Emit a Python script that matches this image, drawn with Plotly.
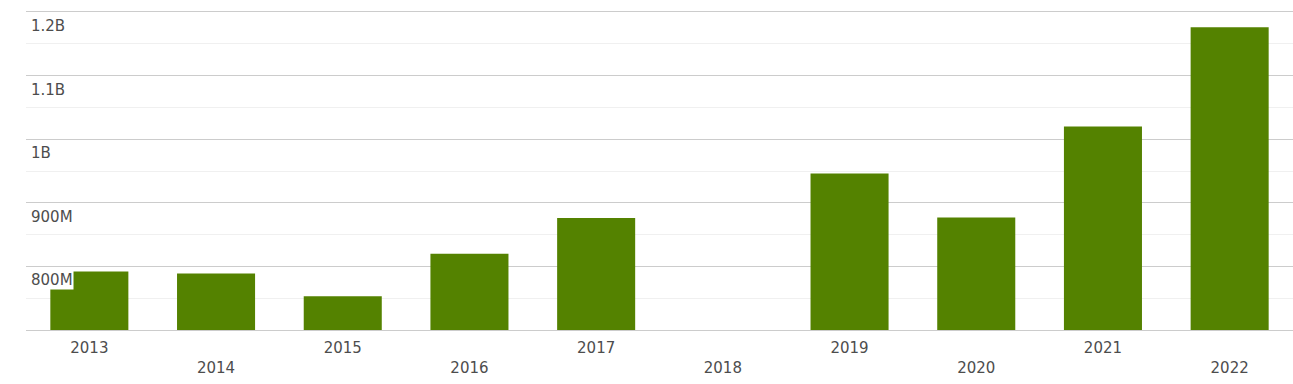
import plotly.graph_objects as go

years = ["2013", "2014", "2015", "2016", "2017", "2018", "2019", "2020", "2021", "2022"]
values = [792e6, 789e6, 753e6, 820e6, 876e6, None, 946e6, 877e6, 1020e6, 1176e6]
ytick_vals = [800e6, 900e6, 1000e6, 1100e6, 1200e6]
ytick_text = ["800M", "900M", "1B", "1.1B", "1.2B"]

bar_color = "#548200"
text_color = "#4d4d4d"
font_family = "DejaVu Sans, sans-serif"

ticktext = [y if i % 2 == 0 else "<br>" + y for i, y in enumerate(years)]

fig = go.Figure()
fig.add_trace(go.Bar(x=years, y=values, marker_color=bar_color, marker_line_width=0,
                     hoverinfo="x+y"))

annotations = []
for v, t in zip(ytick_vals, ytick_text):
    annotations.append(dict(
        x=0, xref="paper", y=v, yref="y", text=t, showarrow=False,
        xanchor="left", yanchor="top", xshift=4, yshift=-4,
        bgcolor="white", borderpad=0,
        font=dict(family=font_family, size=15, color=text_color),
    ))

fig.update_layout(
    width=1293, height=384,
    margin=dict(l=26, r=0, t=12, b=54),
    paper_bgcolor="white", plot_bgcolor="white",
    bargap=0.384,
    showlegend=False,
    font=dict(family=font_family, size=15, color=text_color),
    annotations=annotations,
    xaxis=dict(
        type="category", tickmode="array", tickvals=years, ticktext=ticktext,
        showgrid=False, zeroline=False, showline=True, mirror=True,
        linecolor="#cccccc", linewidth=1, ticks="", ticklabelstandoff=4,
        tickfont=dict(family=font_family, size=15, color=text_color),
    ),
    yaxis=dict(
        range=[700e6, 1200e6], dtick=100e6, tick0=0,
        showticklabels=False, ticks="", zeroline=False, showline=False,
        showgrid=True, gridcolor="#cccccc", gridwidth=1,
        minor=dict(dtick=50e6, tick0=0, showgrid=True, gridcolor="#f0f0f0", gridwidth=1),
    ),
)

fig.write_html("out.html")
